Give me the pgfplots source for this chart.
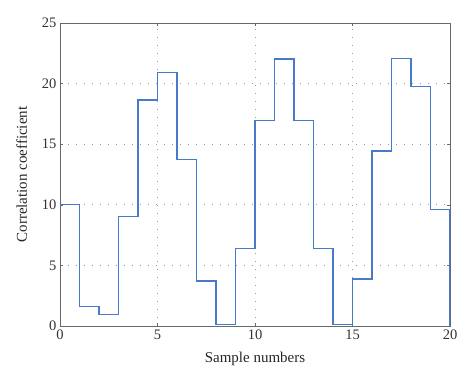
\documentclass[border=0pt]{standalone}
\usepackage{fontspec}
\setmainfont{Liberation Serif}
\usepackage{pgfplots}
\pgfplotsset{compat=1.18}
\definecolor{lineblue}{RGB}{72,122,204}
\definecolor{framegray}{RGB}{105,105,105}
\begin{document}
\begin{tikzpicture}
\begin{axis}[
  name=ax,
  scale only axis,
  width=390pt, height=303pt,
  xmin=0, xmax=20, ymin=0, ymax=25,
  xtick={0,5,10,15,20}, ytick={0,5,10,15,20,25},
  tick align=inside,
  tick pos=both,
  major tick length=3pt,
  axis line style={framegray, line width=0.9pt},
  tick style={framegray, line width=0.6pt},
  grid=major,
  major grid style={gray!80, line width=0.8pt, dash pattern=on 0.8pt off 7.2pt},
  /pgf/number format/assume math mode=true,
  ticklabel style={font=\fontsize{14.5}{16}\selectfont, text=black!80},
  label style={font=\fontsize{15}{17}\selectfont, text=black!85},
  xlabel={Sample numbers},
  ylabel={Correlation coefficient},
  xlabel style={yshift=-6pt},
  ylabel style={yshift=8pt},
]
\addplot[const plot mark left, lineblue, line width=1.1pt] coordinates {
(0,10.0) (1,1.62) (2,0.93) (3,9.04) (4,18.65) (5,20.95) (6,13.75) (7,3.71)
(8,0.1) (9,6.43) (10,16.95) (11,22.03) (12,16.95) (13,6.43) (14,0.1)
(15,3.88) (16,14.44) (17,22.05) (18,19.75) (19,9.62) (20,0)
};
\end{axis}
\path (ax.south west) ++(-60pt,-60pt) coordinate (bl);
\path (ax.north east) ++(24pt,23pt) coordinate (tr);
\useasboundingbox (bl) rectangle (tr);
\end{tikzpicture}
\end{document}
